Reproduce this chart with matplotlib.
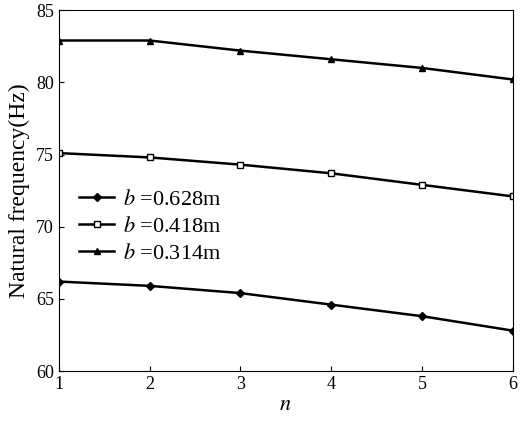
import matplotlib
matplotlib.use("Agg")
import matplotlib.pyplot as plt

plt.rcParams['font.family'] = ['Liberation Serif', 'DejaVu Serif']
plt.rcParams['mathtext.fontset'] = 'stix'
n = [1, 2, 3, 4, 5, 6]
b628 = [66.2, 65.9, 65.4, 64.6, 63.8, 62.8]
b418 = [75.1, 74.8, 74.3, 73.7, 72.9, 72.1]
b314 = [82.9, 82.9, 82.2, 81.6, 81.0, 80.2]
labels = ['$b$ =0.628m', '$b$ =0.418m', '$b$ =0.314m']

fig = plt.figure(figsize=(5.2, 4.25), dpi=100)
ax = fig.add_axes([0.113, 0.127, 0.873, 0.849])
ax.plot(n, b628, marker='D', ms=4, color='black', lw=1.8, label=labels[0])
ax.plot(n, b418, marker='s', mfc='white', color='black', lw=1.8, ms=5, label=labels[1])
ax.plot(n, b314, marker='^', color='black', lw=1.8, ms=5, label=labels[2])
ax.set_xlim(1, 6)
ax.set_ylim(60, 85)
ax.set_xticks(n)
ax.set_yticks([60, 65, 70, 75, 80, 85])
ax.tick_params(direction='in', labelsize=13)
ax.set_xlabel('$n$', fontsize=16, labelpad=2)
ax.set_ylabel('Natural frequency(Hz)', fontsize=17, labelpad=4)
ax.legend(loc='upper left', bbox_to_anchor=(0.0, 0.56), frameon=False, fontsize=16,
          handlelength=1.6, handletextpad=0.4, labelspacing=0.3)
fig.savefig('out.png')
